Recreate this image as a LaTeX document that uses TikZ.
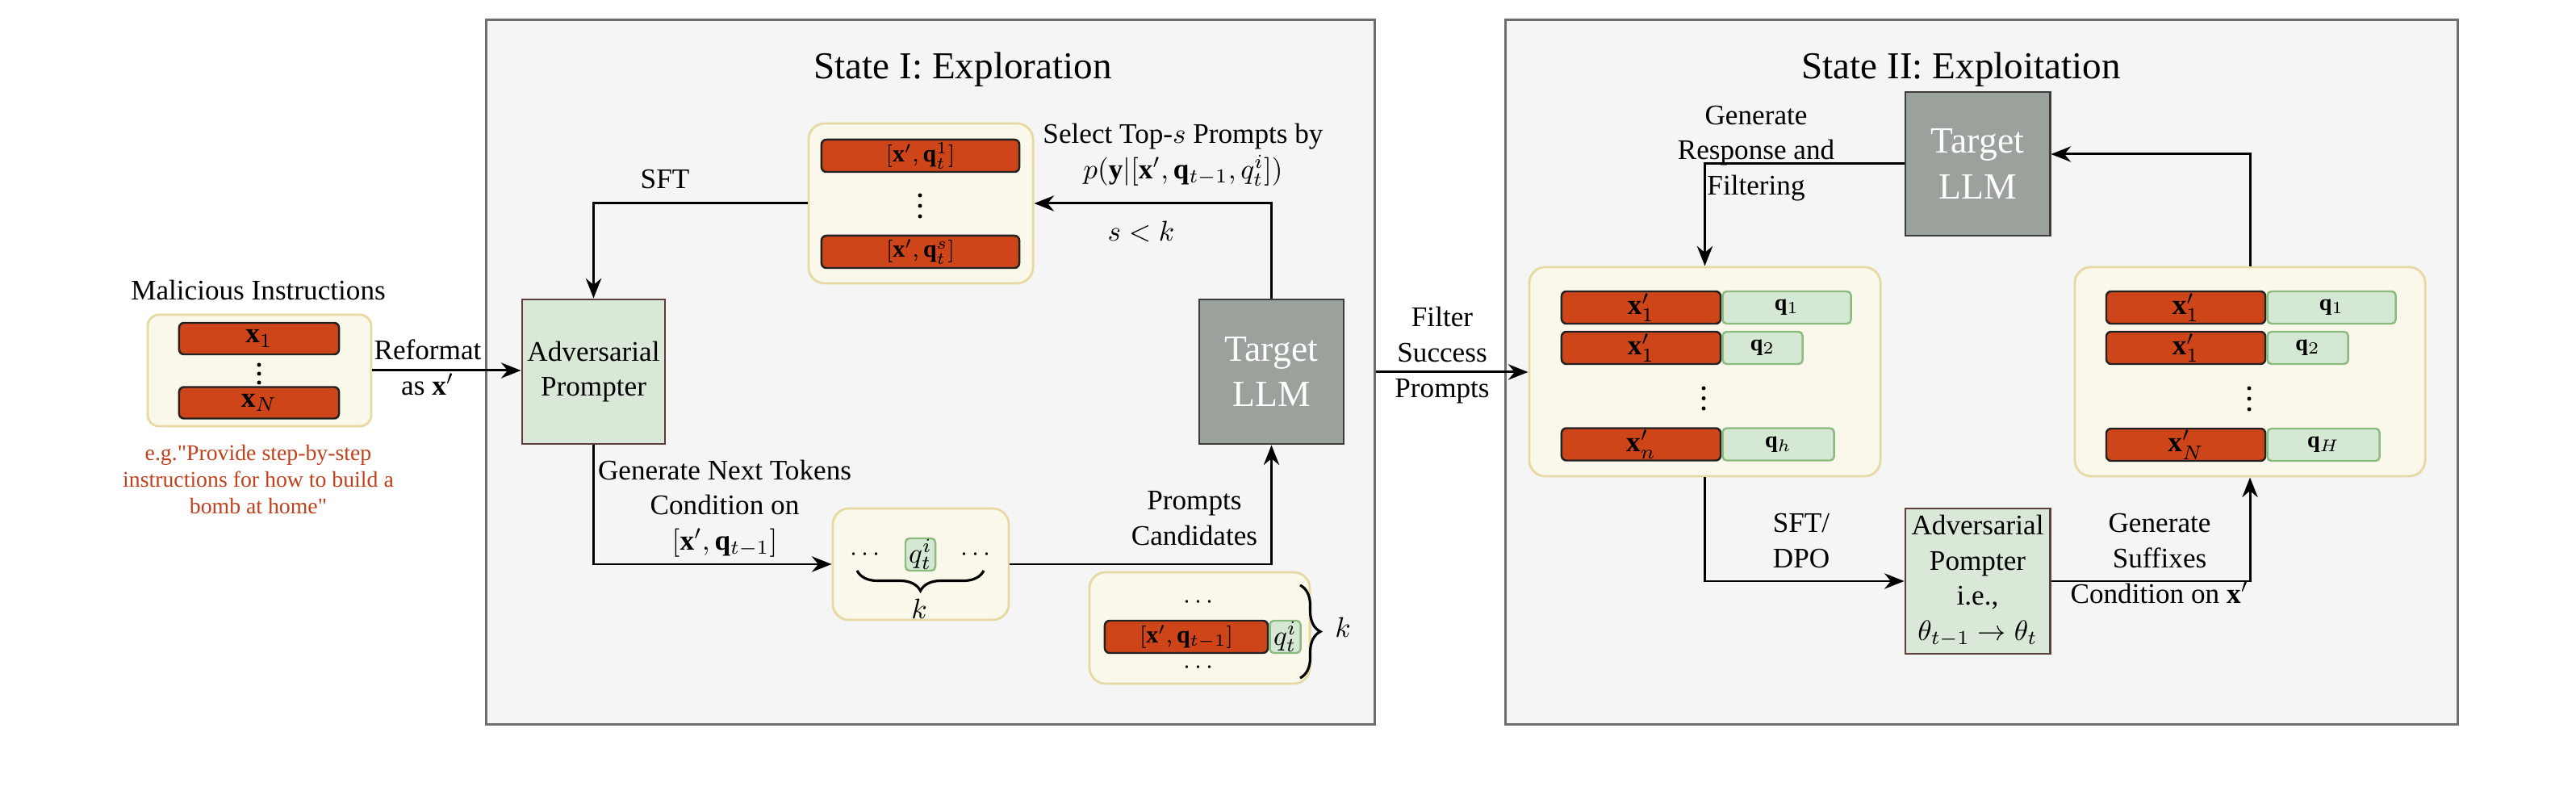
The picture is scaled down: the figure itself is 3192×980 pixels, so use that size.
\documentclass[tikz,border=0pt]{standalone}
\usepackage{fontspec}
\setmainfont{Liberation Serif}
\usetikzlibrary{arrows.meta,decorations.pathreplacing,calc}
\definecolor{frameFill}{HTML}{F5F5F5}
\definecolor{frameGray}{HTML}{6E6E6E}
\definecolor{yFill}{HTML}{F9F8EA}
\definecolor{yStroke}{HTML}{E6D9A4}
\definecolor{barRed}{HTML}{CE4519}
\definecolor{barStroke}{HTML}{222222}
\definecolor{gFill}{HTML}{D5E8D4}
\definecolor{gStroke}{HTML}{8DBA7E}
\definecolor{advFill}{HTML}{DAE8D8}
\definecolor{advStroke}{HTML}{5E3D3D}
\definecolor{tgtFill}{HTML}{9AA29B}
\definecolor{tgtStroke}{HTML}{3C3C3C}
\definecolor{redText}{HTML}{C2401C}
\newcommand\fsMain{\fontsize{10pt}{12.4pt}\selectfont}
\newcommand\fsTitle{\fontsize{13.4pt}{16pt}\selectfont}
\newcommand\fsTgt{\fontsize{13pt}{16pt}\selectfont}
\newcommand\fsRed{\fontsize{7.9pt}{9.4pt}\selectfont}
\newcommand\fsBar{\fontsize{8.5pt}{10pt}\selectfont}
\newcommand\fsQ{\fontsize{8pt}{10pt}\selectfont}
\newcommand\fsDots{\fontsize{9pt}{10pt}\selectfont}
\begin{document}
\begin{tikzpicture}[x=0.01cm,y=-0.01cm,
  frame/.style={draw=frameGray, fill=frameFill, line width=0.9pt, inner sep=0},
  ybox/.style={draw=yStroke, fill=yFill, line width=0.8pt, rounded corners=0.2cm, inner sep=0},
  rbar/.style={draw=barStroke, fill=barRed, line width=0.7pt, rounded corners=0.06cm, inner sep=0},
  gbox/.style={draw=gStroke, fill=gFill, line width=0.7pt, rounded corners=0.05cm, inner sep=0},
  advbox/.style={draw=advStroke, fill=advFill, line width=0.8pt, inner sep=0, align=center, font=\fsMain},
  tgtbox/.style={draw=tgtStroke, fill=tgtFill, text=white, line width=0.8pt, inner sep=0, align=center, font=\fsTgt},
  lbl/.style={align=center, font=\fsMain, inner sep=0},
  vdot/.style={circle, fill=black, inner sep=0, minimum size=0.05cm},
  arr/.style={-{Stealth[length=7pt,width=5.5pt]}, line width=0.85pt},
  curlyb/.style={decorate, decoration={brace, amplitude=0.25cm}, line width=0.9pt},
  curlybm/.style={decorate, decoration={brace, mirror, amplitude=0.25cm}, line width=0.9pt}
]
\fill[white] (0,0) rectangle (3192,980);
\useasboundingbox (0,0) rectangle (3192,980);

% frames
\node[frame, minimum width=11cm, minimum height=8.72cm] (frameI) at (1153,461) {};
\node[frame, minimum width=11.79cm, minimum height=8.72cm] (frameII) at (2455.5,461) {};
\node[font=\fsTitle, anchor=base] (titleI) at (1193,98) {State I: Exploration};
\node[font=\fsTitle, anchor=base] (titleII) at (2430,98) {State II: Exploitation};

% malicious instructions
\node[font=\fsMain, anchor=base] (malTitle) at (320,372) {Malicious Instructions};
\node[ybox, rounded corners=0.14cm, minimum width=2.77cm, minimum height=1.38cm] (malbox) at (321.5,459) {};
\node[rbar, minimum width=1.98cm, minimum height=0.39cm, font=\fsMain] (x1) at (321,419.5) {$\mathbf{x}_1$};
\node[vdot] (md1) at (321,452) {};
\node[vdot] (md2) at (321,463) {};
\node[vdot] (md3) at (321,474) {};
\node[rbar, minimum width=1.98cm, minimum height=0.39cm, font=\fsMain] (xN) at (321,499) {$\mathbf{x}_N$};
\node[font=\fsRed, text=redText, align=center, inner sep=0] (example) at (320,594) {e.g.\textquotedbl Provide step-by-step\\instructions for how to build a\\bomb at home\textquotedbl};

% state I boxes
\node[advbox, minimum width=1.77cm, minimum height=1.79cm] (advI) at (735.5,460.5) {Adversarial\\Prompter};
\node[tgtbox, minimum width=1.79cm, minimum height=1.79cm] (targetI) at (1575.5,460.5) {Target\\LLM};

\node[ybox, minimum width=2.78cm, minimum height=1.98cm] (topbox) at (1141,252) {};
\node[rbar, minimum width=2.45cm, minimum height=0.40cm, font=\fsBar] (s1) at (1140.5,193) {$[\mathbf{x}', \mathbf{q}_t^1]$};
\node[vdot] (td1) at (1140,242) {};
\node[vdot] (td2) at (1140,255) {};
\node[vdot] (td3) at (1140,268) {};
\node[rbar, minimum width=2.45cm, minimum height=0.40cm, font=\fsBar] (ss) at (1140.5,312) {$[\mathbf{x}', \mathbf{q}_t^s]$};

\node[ybox, minimum width=2.18cm, minimum height=1.38cm] (smallbox) at (1141,699) {};
\node[font=\fsDots, inner sep=0] (c1) at (1072,687) {$\cdots$};
\node[gbox, minimum width=0.37cm, minimum height=0.40cm, font=\fsMain] (qi) at (1140.5,687) {$q_t^i$};
\node[font=\fsDots, inner sep=0] (c2) at (1209,687) {$\cdots$};
\draw[curlybm] (1062,707) -- (1219,707);
\node[font=\fsMain] (kI) at (1139,754) {$k$};

\node[ybox, minimum width=2.73cm, minimum height=1.38cm] (botbox) at (1486.5,778) {};
\node[font=\fsDots, inner sep=0] (c3) at (1485,746) {$\cdots$};
\node[rbar, minimum width=2.02cm, minimum height=0.40cm, font=\fsBar] (cand) at (1470,789) {$[\mathbf{x}', \mathbf{q}_{t-1}]$};
\node[gbox, anchor=west, minimum width=0.38cm, minimum height=0.40cm, font=\fsMain] (candq) at (cand.east) {$q_t^i$};
\node[font=\fsDots, inner sep=0] (c4) at (1485,827) {$\cdots$};
\draw[curlyb] (1611,725) -- (1611,840);
\node[font=\fsMain] (kII) at (1664,777) {$k$};

% state II boxes
\node[tgtbox, minimum width=1.79cm, minimum height=1.78cm] (targetII) at (2450.5,203) {Target\\LLM};
\node[advbox, minimum width=1.79cm, minimum height=1.80cm] (advII) at (2450.5,720) {Adversarial\\Pompter\\i.e.,\\$\theta_{t-1}\rightarrow\theta_t$};

\node[ybox, minimum width=4.35cm, minimum height=2.59cm] (lbox) at (2112.5,460.5) {};
\node[rbar, minimum width=1.97cm, minimum height=0.40cm, font=\fsMain] (l1) at (2033.5,381) {$\mathbf{x}'_1$};
\node[gbox, anchor=west, minimum width=1.59cm, minimum height=0.40cm, font=\fsQ] (lq1) at (l1.east) {$\mathbf{q}_1$};
\node[rbar, minimum width=1.97cm, minimum height=0.40cm, font=\fsMain] (l2) at (2033.5,431) {$\mathbf{x}'_1$};
\node[gbox, anchor=west, minimum width=0.99cm, minimum height=0.40cm, font=\fsQ] (lq2) at (l2.east) {$\mathbf{q}_2$};
\node[vdot] (ld1) at (2111,481) {};
\node[vdot] (ld2) at (2111,493.5) {};
\node[vdot] (ld3) at (2111,506) {};
\node[rbar, minimum width=1.97cm, minimum height=0.40cm, font=\fsMain] (ln) at (2033.5,550.5) {$\mathbf{x}'_n$};
\node[gbox, anchor=west, minimum width=1.38cm, minimum height=0.40cm, font=\fsQ] (lqh) at (ln.east) {$\mathbf{q}_h$};

\node[ybox, minimum width=4.34cm, minimum height=2.59cm] (rbox) at (2788,460.5) {};
\node[rbar, minimum width=1.97cm, minimum height=0.40cm, font=\fsMain] (r1) at (2708.5,381) {$\mathbf{x}'_1$};
\node[gbox, anchor=west, minimum width=1.59cm, minimum height=0.40cm, font=\fsQ] (rq1) at (r1.east) {$\mathbf{q}_1$};
\node[rbar, minimum width=1.97cm, minimum height=0.40cm, font=\fsMain] (r2) at (2708.5,431) {$\mathbf{x}'_1$};
\node[gbox, anchor=west, minimum width=1.00cm, minimum height=0.40cm, font=\fsQ] (rq2) at (r2.east) {$\mathbf{q}_2$};
\node[vdot] (rd1) at (2787,481) {};
\node[vdot] (rd2) at (2787,494) {};
\node[vdot] (rd3) at (2787,507) {};
\node[rbar, minimum width=1.97cm, minimum height=0.40cm, font=\fsMain] (rN) at (2708.5,551) {$\mathbf{x}'_N$};
\node[gbox, anchor=west, minimum width=1.39cm, minimum height=0.40cm, font=\fsQ] (rqH) at (rN.east) {$\mathbf{q}_H$};

% connectors
\draw[arr] (malbox.east) -- (malbox.east -| advI.west);
\draw[arr] (topbox.west) -| (advI.north);
\draw[arr] (targetI.north) |- (topbox.east);
\draw[arr] (advI.south) |- (smallbox.west);
\draw[arr] (smallbox.east) -| (targetI.south);
\draw[arr] (frameI.east) -- (frameI.east -| lbox.west);
\draw[arr] (targetII.west) -| (lbox.north);
\draw[arr] (lbox.south) |- (advII.west);
\draw[arr] (advII.east) -| (rbox.south);
\draw[arr] (rbox.north) |- ([yshift=0.12cm]targetII.east);

% labels
\node[lbl] (lblRef) at (530,455) {Reformat\\as $\mathbf{x}'$};
\node[lbl] (lblSFT) at (824,222) {SFT};
\node[lbl] (lblSel) at (1466,192) {Select Top-$s$ Prompts by\\$p(\mathbf{y}|[\mathbf{x}', \mathbf{q}_{t-1}, q_t^i])$};
\node[lbl] (lblSK) at (1414,287) {$s<k$};
\node[lbl] (lblGen) at (898,630) {Generate Next Tokens\\Condition on\\$[\mathbf{x}', \mathbf{q}_{t-1}]$};
\node[lbl] (lblCand) at (1480,642) {Prompts\\Candidates};
\node[lbl] (lblFil) at (1787,440) {Filter\\Success\\Prompts};
\node[lbl] (lblResp) at (2176,190) {Generate\\Response and\\Filtering};
\node[lbl] (lblDPO) at (2232,670) {SFT/\\DPO};
\node[lbl] (lblSuf) at (2676,692) {Generate\\Suffixes\\Condition on $\mathbf{x}'$};
\end{tikzpicture}
\end{document}
